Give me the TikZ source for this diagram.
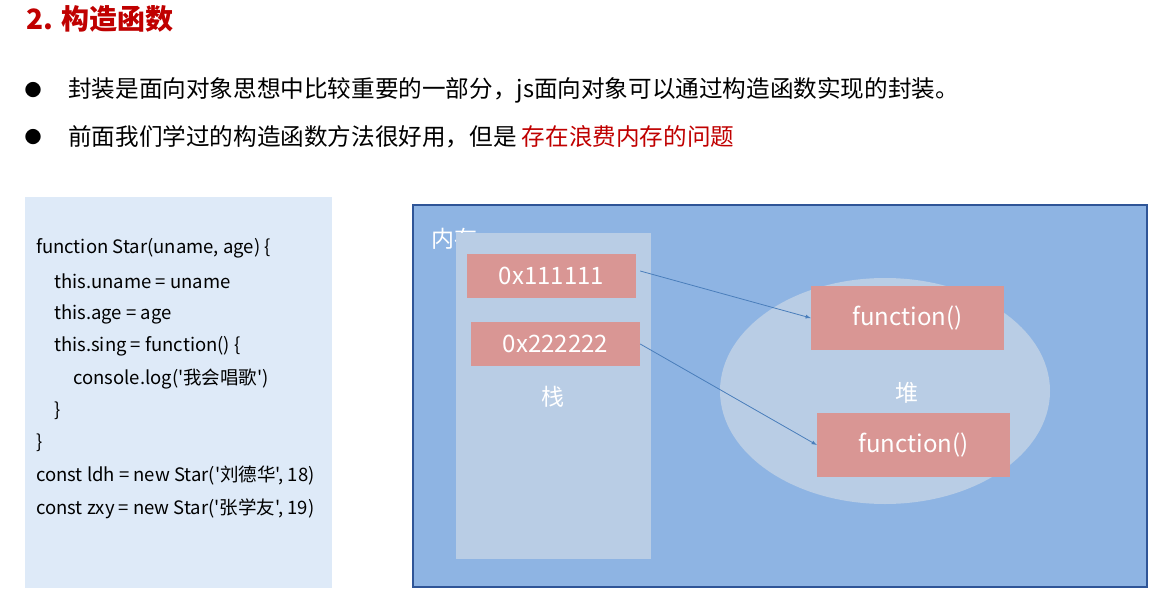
\documentclass[tikz,border=0pt]{standalone}
\usepackage{fontspec}
\setmainfont{Noto Sans CJK SC}
\newfontfamily\codefont{Noto Sans CJK SC}
\begin{document}
\begin{tikzpicture}[x=1pt,y=-1pt,
  code/.style={anchor=west,inner sep=0,font=\codefont\fontsize{18.5}{20}\selectfont},
  addr/.style={fill=addrred,text=white,inner sep=0,font=\fontsize{24}{26}\selectfont},
  lbl/.style={text=white,inner sep=0,font=\fontsize{23}{26}\selectfont},
  ptr/.style={draw=arrowblue,-latex,line width=0.8pt}]
\definecolor{titlered}{HTML}{C00000}
\definecolor{codebg}{HTML}{DEEAF8}
\definecolor{membg}{HTML}{8EB4E3}
\definecolor{memborder}{HTML}{2F5597}
\definecolor{stackbg}{HTML}{B9CDE5}
\definecolor{addrred}{HTML}{D99694}
\definecolor{arrowblue}{HTML}{4A7EBB}
\useasboundingbox (0,0) rectangle (1156,599);
\fill[white] (0,0) rectangle (1156,599);
\node[anchor=west,inner sep=0,text=titlered,font=\fontsize{28}{32}\selectfont\bfseries] (title) at (26,19) {2. 构造函数};
\node[anchor=center,inner sep=0,font=\fontsize{17}{18}\selectfont] (b1) at (33,90) {●};
\node[anchor=center,inner sep=0,font=\fontsize{17}{18}\selectfont] (b2) at (33,137) {●};
\node[anchor=west,inner sep=0,font=\fontsize{23.6}{26}\selectfont] (t1) at (68,90) {封装是面向对象思想中比较重要的一部分，js面向对象可以通过构造函数实现的封装。};
\node[anchor=west,inner sep=0,font=\fontsize{23.6}{26}\selectfont] (t2) at (68,137) {前面我们学过的构造函数方法很好用，但是 \textcolor{titlered}{存在浪费内存的问题}};
\fill[codebg] (25,197) rectangle (332,588);
\node[code] (c1) at (36,248) {function Star(uname, age) \{};
\node[code] (c2) at (54,281) {this.uname = uname};
\node[code] (c3) at (54,314) {this.age = age};
\node[code] (c4) at (54,346) {this.sing = function() \{};
\node[code] (c5) at (73,379) {console.log('我会唱歌')};
\node[code] (c6) at (54,411) {\}};
\node[code] (c7) at (36,443) {\}};
\node[code] (c8) at (36,476) {const ldh = new Star('刘德华', 18)};
\node[code] (c9) at (36,509) {const zxy = new Star('张学友', 19)};
\draw[fill=membg,draw=memborder,line width=2.5pt] (413,205) rectangle (1147,587);
\node[lbl,anchor=west] (mem) at (431,239) {内存};
\fill[stackbg] (456,233) rectangle (651,559);
\node[lbl] (zhan) at (553,397) {栈};
\fill[stackbg] (885,391) ellipse [x radius=165, y radius=113];
\node[lbl] (dui) at (907,393) {堆};
\node[addr,minimum width=169,minimum height=44] (a1) at (551.5,276) {0x111111};
\node[addr,minimum width=169,minimum height=44] (a2) at (555.5,344) {0x222222};
\node[addr,minimum width=193,minimum height=64] (f1) at (907.5,318) {function()};
\node[addr,minimum width=193,minimum height=64] (f2) at (913.5,445) {function()};
\draw[ptr] (a1.east) ++(4,-5) coordinate (s1) -- (f1.west);
\draw[ptr] (a2.east) -- (f2.west);
\end{tikzpicture}
\end{document}
